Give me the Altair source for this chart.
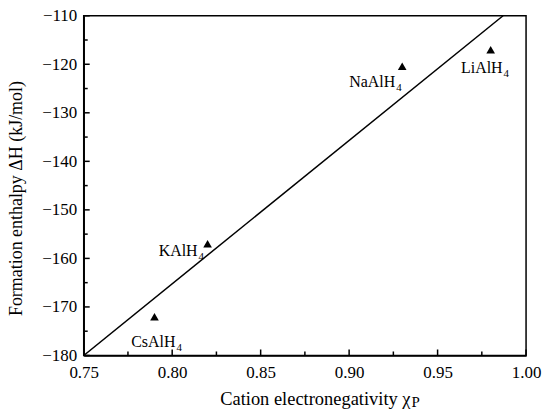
import altair as alt
import pandas as pd

# ---- data ----
names = ["CsAlH4", "KAlH4", "NaAlH4", "LiAlH4"]
chi = [0.79, 0.82, 0.93, 0.98]
enthalpy = [-172.0, -157.0, -120.4, -117.0]

fit_x = [0.75, 0.987]
fit_y = [-180.0, -110.0]

x_major = [0.75, 0.80, 0.85, 0.90, 0.95, 1.00]
x_minor = [0.775, 0.825, 0.875, 0.925, 0.975]
y_major = [-180, -170, -160, -150, -140, -130, -120, -110]
y_minor = [-175, -165, -155, -145, -135, -125, -115]

x_title_main = "Cation electronegativity \u03c7"
x_title_sub = "P"
y_title = "Formation enthalpy \u0394H (kJ/mol)"

# ---- styles ----
FONT = "Liberation Serif"
W, H = 444, 341
label_offsets = {  # dx, dy of the anchor between main text and subscript
    "CsAlH4": (21, 30),
    "KAlH4": (-10, 12),
    "NaAlH4": (-7, 21),
    "LiAlH4": (12, 23),
}

df = pd.DataFrame({"name": names, "chi": chi, "dH": enthalpy,
                   "base": [n[:-1] for n in names], "sub": [n[-1] for n in names]})
fit = pd.DataFrame({"chi": fit_x, "dH": fit_y})

xs = alt.Scale(domain=[0.75, 1.0], nice=False, zero=False)
ys = alt.Scale(domain=[-180, -110], nice=False, zero=False)

xaxis = alt.Axis(values=x_major, format=".2f", title=None, ticks=False, grid=False,
                 labelPadding=9, labelFlush=False)
yaxis = alt.Axis(values=y_major, format="d", title=y_title, ticks=False, grid=False,
                 labelPadding=7, titleX=-67, titleY=183, titleAngle=-90,
                 titleAlign="center", titleBaseline="middle")

line = alt.Chart(fit).mark_line(color="black", strokeWidth=1.5, clip=True).encode(
    x=alt.X("chi:Q", scale=xs, axis=xaxis),
    y=alt.Y("dH:Q", scale=ys, axis=yaxis),
)

pts = alt.Chart(df).mark_point(shape="triangle-up", filled=True, color="black",
                               size=75, opacity=1).encode(
    x=alt.X("chi:Q", scale=xs),
    y=alt.Y("dH:Q", scale=ys),
)

layers = [line, pts]

for n in names:
    dx, dy = label_offsets[n]
    base = alt.Chart(df).transform_filter(alt.datum.name == n)
    layers.append(base.mark_text(align="right", baseline="alphabetic", dx=dx, dy=dy,
                                 font=FONT, fontSize=16, color="black").encode(
        x=alt.X("chi:Q", scale=xs), y=alt.Y("dH:Q", scale=ys), text="base:N"))
    layers.append(base.mark_text(align="left", baseline="alphabetic", dx=dx + 1, dy=dy + 4,
                                 font=FONT, fontSize=11, color="black").encode(
        x=alt.X("chi:Q", scale=xs), y=alt.Y("dH:Q", scale=ys), text="sub:N"))

# inward ticks
xmaj = pd.DataFrame({"v": x_major})
xmin = pd.DataFrame({"v": x_minor})
ymaj = pd.DataFrame({"v": y_major})
ymin = pd.DataFrame({"v": y_minor})

layers.append(alt.Chart(xmaj).mark_rule(color="black", strokeWidth=1.5).encode(
    x=alt.X("v:Q", scale=xs), y=alt.value(H), y2=alt.value(H - 6)))
layers.append(alt.Chart(xmin).mark_rule(color="black", strokeWidth=1.5).encode(
    x=alt.X("v:Q", scale=xs), y=alt.value(H), y2=alt.value(H - 4)))
layers.append(alt.Chart(ymaj).mark_rule(color="black", strokeWidth=1.5).encode(
    y=alt.Y("v:Q", scale=ys), x=alt.value(0), x2=alt.value(6)))
layers.append(alt.Chart(ymin).mark_rule(color="black", strokeWidth=1.5).encode(
    y=alt.Y("v:Q", scale=ys), x=alt.value(0), x2=alt.value(4)))

# x-axis title with subscript
tdf = pd.DataFrame({"main": [x_title_main], "sub": [x_title_sub]})
layers.append(alt.Chart(tdf).mark_text(align="right", baseline="alphabetic", font=FONT,
                                       fontSize=18.5, color="black").encode(
    x=alt.value(328), y=alt.value(391), text="main:N"))
layers.append(alt.Chart(tdf).mark_text(align="left", baseline="alphabetic", font=FONT,
                                       fontSize=15, color="black").encode(
    x=alt.value(329), y=alt.value(393), text="sub:N"))

chart = alt.layer(*layers).properties(
    width=W, height=H,
    padding={"left": 76, "top": 7, "right": 16, "bottom": 62},
    autosize="none",
    background="white",
).configure_view(
    stroke="black", strokeWidth=1.5
).configure_axis(
    domainColor="black", domainWidth=1.5,
    labelFont=FONT, labelFontSize=17, labelColor="black",
    titleFont=FONT, titleFontSize=18, titleColor="black", titleFontWeight="normal",
)

chart.save("out.html", embed_options={"renderer": "svg", "actions": False})
